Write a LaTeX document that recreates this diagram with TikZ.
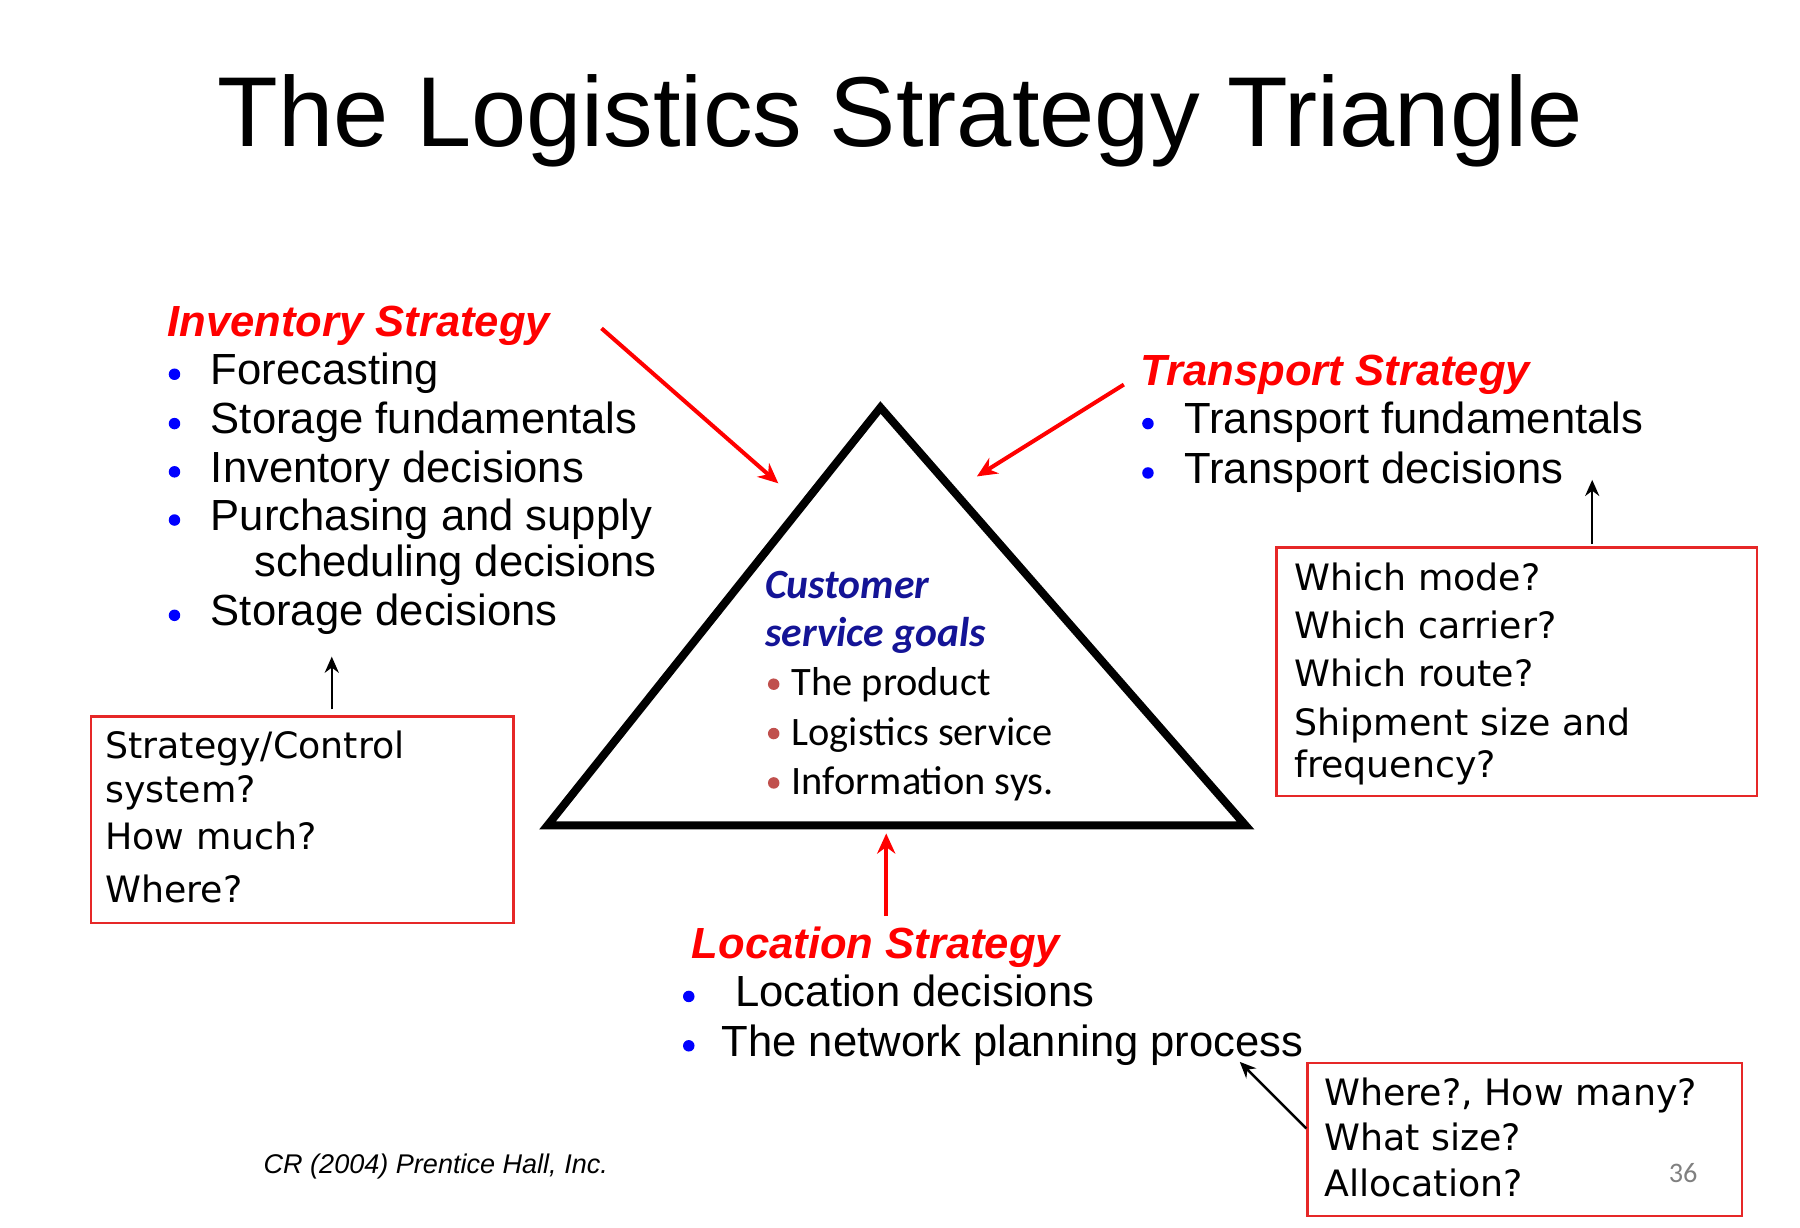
\documentclass[tikz,border=0pt]{standalone}
\usepackage{fontspec}
\usetikzlibrary{arrows.meta}
\setmainfont{Liberation Sans}
\newfontfamily\vfont{DejaVu Sans}
\newfontfamily\cfont{Carlito}
\definecolor{navyc}{RGB}{20,20,150}
\definecolor{redb}{RGB}{192,80,77}
\definecolor{rline}{RGB}{230,40,40}
\begin{document}
\begin{tikzpicture}[x=0.01cm,y=-0.01cm,
  txt/.style={anchor=base west,inner sep=0,font=\fontsize{10.8}{13}\selectfont},
  head/.style={anchor=base west,inner sep=0,text=red,font=\fontsize{10.8}{13}\selectfont\bfseries\itshape},
  btxt/.style={anchor=base west,inner sep=0,font=\vfont\fontsize{9}{11}\selectfont},
  ctxt/.style={anchor=base west,inner sep=0,font=\cfont\fontsize{10}{12}\selectfont},
  dot/.style={circle,fill=blue,inner sep=0,minimum size=0.1cm},
  cdot/.style={circle,fill=redb,inner sep=0,minimum size=0.1cm},
  rarr/.style={draw=red,line width=1pt,-{Stealth[length=5pt,width=4.5pt]}},
  karr/.style={draw=black,line width=0.6pt,-{Stealth[length=4pt,width=3.5pt]}},
  qbox/.style={draw=rline,line width=0.6pt}]
\useasboundingbox (0,0) rectangle (1568,1069);
\node[anchor=base,inner sep=0,font=\fontsize{24.6}{28}\selectfont] (title) at (784,128) {The Logistics Strategy Triangle};
% triangle
\coordinate (tA) at (767,355); \coordinate (tL) at (477,719); \coordinate (tR) at (1085,719);
\draw[line width=2pt,line join=miter] (tA) -- (tR) -- (tL) -- cycle;
% inventory
\node[head] (inv) at (145,293) {Inventory Strategy};
\foreach \y/\t [count=\i] in {335/Forecasting,378/Storage fundamentals,420/Inventory decisions,462/Purchasing and supply,545/Storage decisions}{
  \node[dot] (id\i) at (152,\y-9) {};
  \node[txt] (it\i) at (183,\y) {\t};}
\node[txt] (it6) at (221,502) {scheduling decisions};
\coordinate (ia1) at (524,286); \coordinate (ia2) at (678,421);
\draw[rarr] (ia1) -- (ia2);
% left box
\node[qbox,minimum width=3.68cm,minimum height=1.8cm,anchor=north west] (lb) at (78,623) {};
\node[btxt] (l1) at (91,661) {Strategy/Control};
\node[btxt] (l2) at (91,699) {system?};
\node[btxt] (l3) at (91,740) {How much?};
\node[btxt] (l4) at (91,786) {Where?};
\coordinate (la1) at (289,618); \coordinate (la2) at (289,572);
\draw[karr] (la1) -- (la2);
% transport
\node[head] (tr) at (993,336) {Transport Strategy};
\node[dot] (td1) at (1000,369) {}; \node[txt] (tt1) at (1031,378) {Transport fundamentals};
\node[dot] (td2) at (1000,412) {}; \node[txt] (tt2) at (1031,421) {Transport decisions};
\coordinate (ta1) at (979,335); \coordinate (ta2) at (851,415);
\draw[rarr] (ta1) -- (ta2);
\node[qbox,minimum width=4.18cm,minimum height=2.16cm,anchor=north west] (rb) at (1111,476) {};
\node[btxt] (r1) at (1127,514) {Which mode?};
\node[btxt] (r2) at (1127,556) {Which carrier?};
\node[btxt] (r3) at (1127,598) {Which route?};
\node[btxt] (r4) at (1127,641) {Shipment size and};
\node[btxt] (r5) at (1127,677) {frequency?};
\coordinate (ra1) at (1387,474); \coordinate (ra2) at (1387,418);
\draw[karr] (ra1) -- (ra2);
% customer
\node[ctxt,text=navyc,font=\cfont\fontsize{10.3}{12}\selectfont\bfseries\itshape] (c1) at (666,521) {Customer};
\node[ctxt,text=navyc,font=\cfont\fontsize{10.3}{12}\selectfont\bfseries\itshape] (c2) at (666,563) {service goals};
\foreach \y/\t [count=\i] in {606/The product,649/Logistics service,692/Information sys.}{
  \node[cdot] (cd\i) at (674,\y-10) {};
  \node[ctxt] (ct\i) at (689,\y) {\t};}
% location
\coordinate (oa1) at (772,798); \coordinate (oa2) at (772,726);
\draw[rarr] (oa1) -- (oa2);
\node[head] (loc) at (602,835) {Location Strategy};
\node[dot] (od1) at (600,868) {}; \node[txt] (ot1) at (640,877) {Location decisions};
\node[dot] (od2) at (600,911) {}; \node[txt] (ot2) at (628,920) {The network planning process};
\node[qbox,minimum width=3.78cm,minimum height=1.33cm,anchor=north west] (bb) at (1138,925) {};
\node[btxt] (b1) at (1153,963) {Where?, How many?};
\node[btxt] (b2) at (1153,1002) {What size?};
\node[btxt] (b3) at (1153,1042) {Allocation?};
\node[anchor=base west,inner sep=0,text=gray,font=\cfont\fontsize{7}{8}\selectfont] (num) at (1453,1030) {36};
\coordinate (ba1) at (1138,983); \coordinate (ba2) at (1080,925);
\draw[karr] (ba1) -- (ba2);
\node[anchor=base west,inner sep=0,font=\fontsize{6.7}{8}\selectfont\itshape] (cr) at (229,1022) {CR (2004) Prentice Hall, Inc.};
\end{tikzpicture}
\end{document}
